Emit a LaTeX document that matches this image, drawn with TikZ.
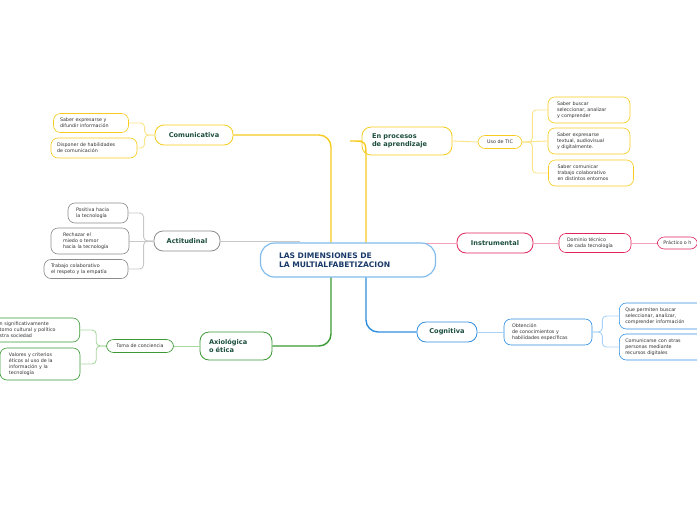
\documentclass[tikz,border=0pt]{standalone}
\usepackage{fontspec}
\setmainfont{DejaVu Sans}
\definecolor{yel}{HTML}{F7CC1E}
\definecolor{yell}{HTML}{FBE58A}
\definecolor{gry}{HTML}{8C8C8C}
\definecolor{gryl}{HTML}{C8C8C8}
\definecolor{grn}{HTML}{3B9A35}
\definecolor{grnl}{HTML}{A9D8A0}
\definecolor{pnk}{HTML}{E0245E}
\definecolor{pnkl}{HTML}{F2A0BA}
\definecolor{blu}{HTML}{2F8FE0}
\definecolor{blul}{HTML}{A8D2F5}
\definecolor{ttl}{HTML}{1B4D3E}
\definecolor{navy}{HTML}{1A3A6A}
\tikzset{
 base/.style={rounded corners=9pt, draw, fill=white, line width=0.8pt, align=left, inner sep=0pt},
 big/.style={base, font=\fontsize{6.6}{8}\selectfont\bfseries, text=ttl},
 small/.style={base, line width=0.6pt, font=\fontsize{4.8}{5.8}\selectfont, text=black!80, rounded corners=7pt},
 trunk/.style={line width=1.4pt, rounded corners=12pt},
 leaf/.style={line width=0.9pt, rounded corners=4pt},
 centbox/.style={base, draw=blu!60, line width=1.2pt, rounded corners=14pt, minimum width=175pt, minimum height=34pt, font=\fontsize{7.6}{9.5}\selectfont\bfseries, text=navy, text width=138pt},
}
\begin{document}
\begin{tikzpicture}[x=1pt,y=-1pt]
\useasboundingbox (0,0) rectangle (697,520);
\clip (0,0) rectangle (697,520);
\fill[white] (0,0) rectangle (697,520);
% main branches
\node[big, draw=yel, minimum width=78pt, minimum height=20pt, align=center] (com) at (194,135) {Comunicativa};
\node[big, draw=gry, minimum width=66pt, minimum height=20pt, align=center] (act) at (187,241) {Actitudinal};
\node[big, draw=grn, minimum width=72pt, minimum height=28pt, text width=54pt] (axi) at (236,346) {Axiológica\\o ética};
\node[big, draw=yel, minimum width=90pt, minimum height=28pt, text width=70pt] (pro) at (407,141) {En procesos\\de aprendizaje};
\node[big, draw=pnk, minimum width=76pt, minimum height=20pt, align=center] (ins) at (495,243) {Instrumental};
\node[big, draw=blu, minimum width=60pt, minimum height=20pt, align=center] (cog) at (447,332) {Cognitiva};
\coordinate (cn) at (348,243);
\coordinate (cs) at (348,277);
% trunks
\draw[trunk, yel] (com.east) -| ([xshift=-17pt]cn);
\draw[line width=1.4pt, yel] (pro.west) -- (350,141) .. controls (366,141) .. (366,158) -- ([xshift=18pt]cn);
\draw[trunk, grn] (axi.east) -| ([xshift=-17pt]cs);
\draw[trunk, blu] (cog.west) -| ([xshift=18pt]cs);
\draw[line width=1pt, gryl] (act.east) -- (300,241);
\draw[line width=1pt, pnkl] (ins.west) -- (420,243);
\node[centbox] (cent) at (348,260) {LAS DIMENSIONES DE\\LA MULTIALFABETIZACION};
% Comunicativa leaves
\node[small, draw=yel, minimum width=75pt, minimum height=19pt, text width=62pt] (c1) at (91,123) {Saber expresarse y\\difundir información};
\node[small, draw=yel, minimum width=86pt, minimum height=20pt, text width=74pt] (c2) at (94,148) {Disponer de habilidades\\de comunicación};
\draw[leaf, yell] (com.west) -- ++(-10,0) |- (c1.east);
\draw[leaf, yell] (com.west) -- ++(-10,0) |- (c2.east);
% Actitudinal leaves
\node[small, draw=gry, minimum width=60pt, minimum height=20pt, text width=44pt] (a1) at (98,213) {Positiva hacia\\la tecnología};
\node[small, draw=gry, minimum width=78pt, minimum height=26pt, text width=54pt] (a2) at (90,241) {Rechazar el\\miedo o temor\\hacia la tecnología};
\node[small, draw=gry, minimum width=84pt, minimum height=19pt, text width=70pt] (a3) at (86,269) {Trabajo colaborativo\\el respeto y la empatía};
\draw[leaf, gryl] (act.west) -- ++(-10,0) |- (a1.east);
\draw[leaf, gryl] (act.west) -- (a2.east);
\draw[leaf, gryl] (act.west) -- ++(-10,0) |- (a3.east);
% Axiologica
\node[small, draw=grn, minimum width=67pt, minimum height=13pt, align=center] (t1) at (140,346) {Toma de conciencia};
\draw[leaf, grnl] (axi.west) -- (t1.east);
\node[small, draw=grn, minimum width=90pt, minimum height=24pt, text width=82pt, anchor=east] (g1) at (80,330) {den significativamente\\entorno cultural y político\\uestra sociedad};
\node[small, draw=grn, minimum width=80pt, minimum height=32pt, text width=62pt] (g2) at (40,364) {Valores y criterios\\éticos al uso de la\\información y la\\tecnología};
\draw[leaf, grnl] (t1.west) -- ++(-10,0) |- (g1.east);
\draw[leaf, grnl] (t1.west) -- ++(-10,0) |- (g2.east);
% En procesos
\node[small, draw=yel, minimum width=44pt, minimum height=13pt, align=center] (u1) at (500,142) {Uso de TIC};
\draw[leaf, yell] (pro.east) -- (u1.west);
\node[small, draw=yel, minimum width=82pt, minimum height=26pt, text width=64pt] (p1) at (589,110) {Saber buscar\\seleccionar, analizar\\y comprender};
\node[small, draw=yel, minimum width=82pt, minimum height=26pt, text width=64pt] (p2) at (589,141) {Saber expresarse\\textual, audiovisual\\y digitalmente.};
\node[small, draw=yel, minimum width=85pt, minimum height=26pt, text width=67pt] (p3) at (591,173) {Saber comunicar\\trabajo colaborativo\\en distintos entornos};
\draw[leaf, yell] (u1.east) -- ++(10,0) |- (p1.west);
\draw[leaf, yell] (u1.east) -- (p2.west);
\draw[leaf, yell] (u1.east) -- ++(10,0) |- (p3.west);
% Instrumental
\node[small, draw=pnk, minimum width=72pt, minimum height=19pt, text width=56pt] (i1) at (595,243) {Dominio técnico\\de cada tecnología};
\draw[leaf, pnkl] (ins.east) -- (i1.west);
\node[small, draw=pnk, minimum height=12pt, anchor=west, inner xsep=6pt] (i2) at (657,243) {Práctico o h};
\draw[leaf, pnkl] (i1.east) -- (i2.west);
% Cognitiva
\node[small, draw=blu, minimum width=88pt, minimum height=26pt, text width=72pt] (o1) at (548,332) {Obtención\\de conocimientos y\\habilidades específicas};
\draw[leaf, blul] (cog.east) -- (o1.west);
\node[small, draw=blu, minimum width=92pt, minimum height=26pt, text width=80pt, anchor=west] (q1) at (619,316) {Que permiten buscar\\seleccionar, analizar,\\comprender información};
\node[small, draw=blu, minimum width=92pt, minimum height=26pt, text width=80pt, anchor=west] (q2) at (619,347) {Comunicarse con otras\\personas mediante\\recursos digitales};
\draw[leaf, blul] (o1.east) -- ++(10,0) |- (q1.west);
\draw[leaf, blul] (o1.east) -- ++(10,0) |- (q2.west);
\end{tikzpicture}
\end{document}
